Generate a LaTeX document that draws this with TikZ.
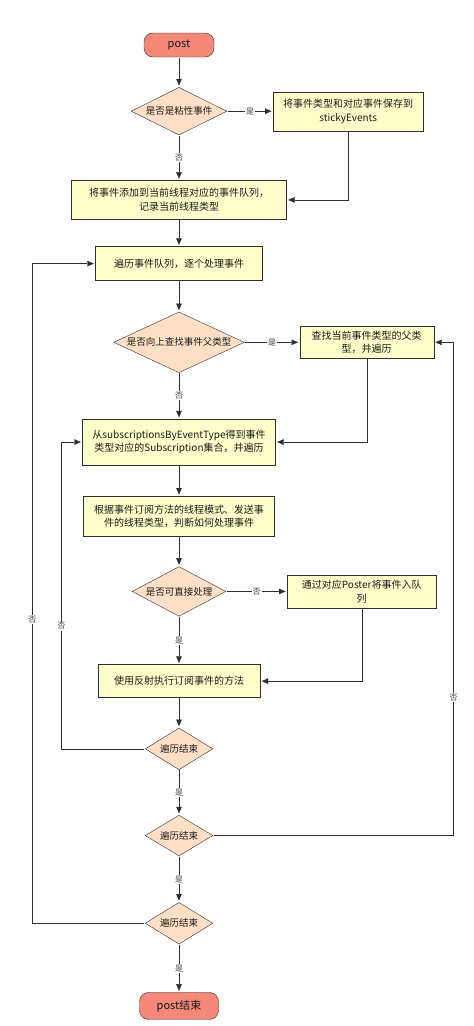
\documentclass[tikz,border=0pt]{standalone}
\usepackage{fontspec}
\newfontfamily\cjk{Noto Sans CJK SC}
\usetikzlibrary{arrows.meta, positioning, shapes.geometric}

\definecolor{boxfill}{HTML}{FFFFCC}
\definecolor{decfill}{HTML}{FFE0C6}
\definecolor{termfill}{HTML}{F4897A}
\definecolor{edgecol}{HTML}{2E2E2E}

\begin{document}
\begin{tikzpicture}[x=1pt, y=1pt]
	\tikzset{>={Triangle[length=8pt, width=6.5pt]}, line width=1.2pt,
		term/.style={draw=edgecol, rounded corners=9pt, fill=termfill, text=black!90, minimum width=70pt, minimum height=24pt, inner sep=0pt, font=\cjk\fontsize{11}{12}\selectfont},
		proc/.style={draw=edgecol, fill=boxfill, text=black!90, align=center, inner sep=0pt, font=\cjk\fontsize{10}{13.5}\selectfont},
		dec/.style={draw=edgecol, diamond, fill=decfill, text=black!90, aspect=2, inner sep=0pt, font=\cjk\fontsize{9.5}{12}\selectfont},
		flow/.style={->, draw=edgecol},
		lbl/.style={fill=white, inner sep=1pt, text=black!75, font=\cjk\fontsize{8}{9}\selectfont}
	}
	\useasboundingbox (0,0) rectangle (474,-1026);

	\node[term] (post) at (179,-45) {post};
	\node[dec, below=29pt of post, minimum width=96pt, minimum height=48pt] (sticky) {是否是粘性事件};
	\node[proc, right=45pt of sticky, minimum width=150pt, minimum height=39pt] (save) {将事件类型和对应事件保存到\\stickyEvents};
	\node[proc, below=44pt of sticky, minimum width=215pt, minimum height=39pt] (enqueue) {将事件添加到当前线程对应的事件队列，\\记录当前线程类型};
	\node[proc, below=26pt of enqueue, minimum width=167pt, minimum height=34pt] (loopq) {遍历事件队列，逐个处理事件};
	\node[dec, below=30pt of loopq, minimum width=131pt, minimum height=60pt] (super) {是否向上查找事件父类型};
	\node[proc, right=54pt of super, minimum width=134pt, minimum height=32pt] (parent) {查找当前事件类型的父类\\型，并遍历};
	\node[proc, below=45pt of super, minimum width=193pt, minimum height=46pt] (subs) {从subscriptionsByEventType得到事件\\类型对应的Subscription集合，并遍历};
	\node[proc, below=30pt of subs, minimum width=191pt, minimum height=40pt] (mode) {根据事件订阅方法的线程模式、发送事\\件的线程类型，判断如何处理事件};
	\node[dec, below=29pt of mode, minimum width=94pt, minimum height=50pt] (direct) {是否可直接处理};
	\node[proc, right=60pt of direct, minimum width=149pt, minimum height=33pt] (poster) {通过对应Poster将事件入队\\列};
	\node[proc, below=47pt of direct, minimum width=162pt, minimum height=33pt] (invoke) {使用反射执行订阅事件的方法};
	\node[dec, below=29pt of invoke, minimum width=68pt, minimum height=42pt] (endsub) {遍历结束};
	\node[dec, below=44pt of endsub, minimum width=68pt, minimum height=41pt] (endtype) {遍历结束};
	\node[dec, below=45pt of endtype, minimum width=68pt, minimum height=42pt] (endqueue) {遍历结束};
	\node[term, below=47pt of endqueue, minimum width=79pt, minimum height=27pt] (done) {post结束};

	\draw[flow] (post) -- (sticky);
	\draw[flow] (sticky) -- node[lbl] {是} (save);
	\draw[flow] (sticky) -- node[lbl] {否} (enqueue);
	\draw[flow] (save.south) |- (enqueue.east);
	\draw[flow] (enqueue) -- (loopq);
	\draw[flow] (loopq) -- (super);
	\draw[flow] (super) -- node[lbl] {是} (parent);
	\draw[flow] (super) -- node[lbl] {否} (subs);
	\draw[flow] (parent.south) |- (subs.east);
	\draw[flow] (subs) -- (mode);
	\draw[flow] (mode) -- (direct);
	\draw[flow] (direct) -- node[lbl] {否} (poster);
	\draw[flow] (direct) -- node[lbl] {是} (invoke);
	\draw[flow] (poster.south) |- (invoke.east);
	\draw[flow] (invoke) -- (endsub);
	\draw[flow] (endsub) -- node[lbl] {是} (endtype);
	\draw[flow] (endtype) -- node[lbl] {是} (endqueue);
	\draw[flow] (endqueue) -- node[lbl] {是} (done);
	% back to the loops
	\draw[flow] (endsub.west) -- ++(-83,0) |- node[lbl, pos=0.2] {否} (subs.west);
	\draw[flow] (endtype.east) -- ++(240,0) |- node[lbl, pos=0.14] {否} (parent.east);
	\draw[flow] (endqueue.west) -- ++(-112,0) |- node[lbl, pos=0.23] {否} (loopq.west);
\end{tikzpicture}
\end{document}
